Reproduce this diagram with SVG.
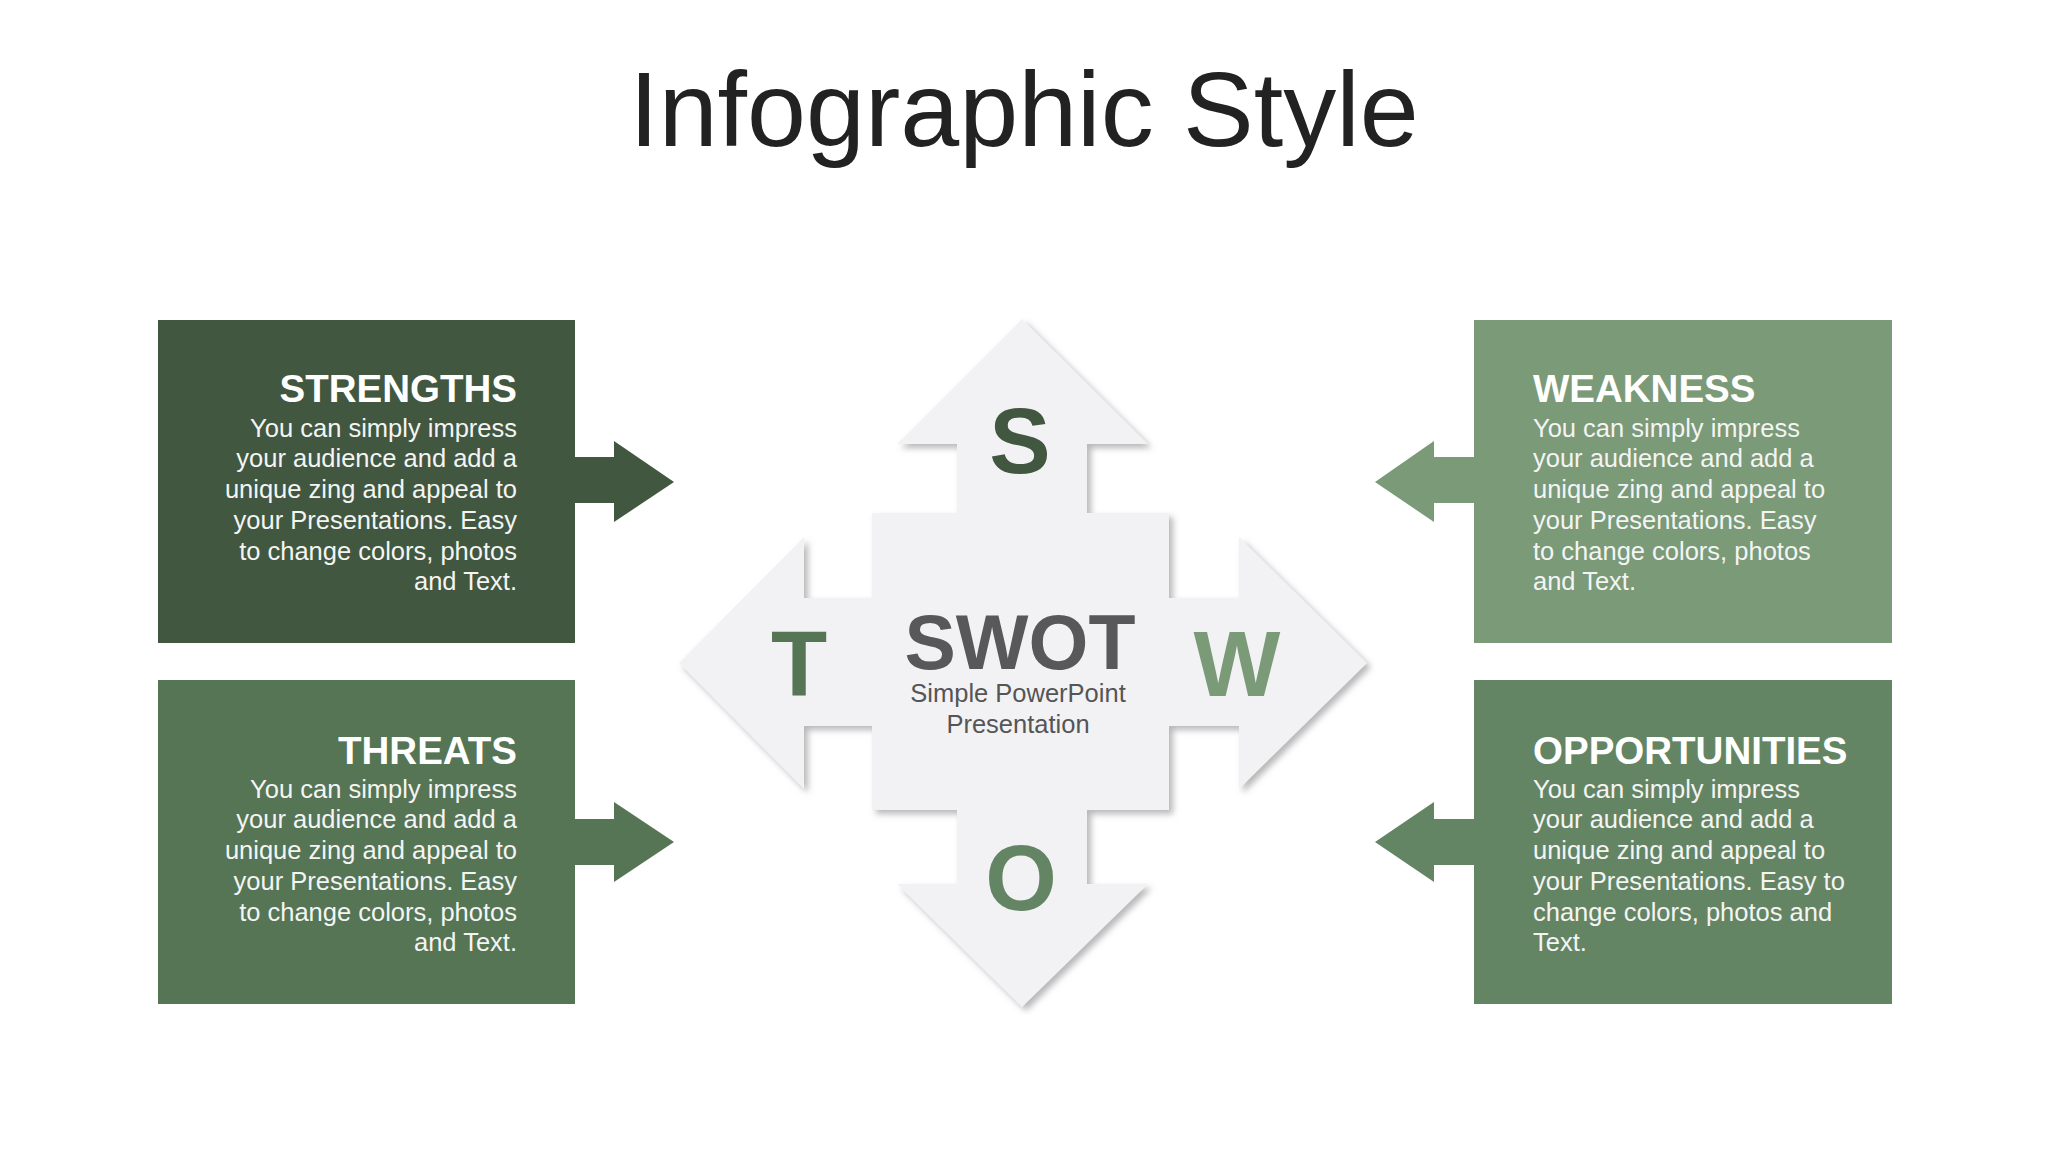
<svg xmlns="http://www.w3.org/2000/svg" width="2048" height="1152" viewBox="0 0 2048 1152">
<style>
text{font-family:"Liberation Sans",Arial,sans-serif}
.h{font-size:38.5px;font-weight:bold;fill:#fff}
.b{font-size:25.5px;fill:#f4f4f4}
.r{text-anchor:end}
.big{font-size:92px;font-weight:bold;text-anchor:middle}
</style>
<defs>
<filter id="sh" x="-10%" y="-10%" width="120%" height="120%">
<feDropShadow dx="4" dy="4" stdDeviation="3" flood-color="#888" flood-opacity="0.6"/>
</filter>
</defs>
<rect width="2048" height="1152" fill="#fff"/>
<text x="1024" y="146" font-size="106" fill="#222" text-anchor="middle">Infographic Style</text>
<g id="connectors">
<polygon points="575,457 614,457 614,441 674,482 614,522 614,503 575,503" fill="#41573f"/>
<polygon points="575,819 614,819 614,802 674,842 614,882 614,865 575,865" fill="#557555"/>
<polygon points="1474,457 1434,457 1434,441 1375,482 1434,522 1434,503 1474,503" fill="#7a9a78"/>
<polygon points="1474,819 1434,819 1434,802 1375,842 1434,882 1434,865 1474,865" fill="#648564"/>
</g>
<g id="strengths">
<rect x="158" y="320" width="417" height="323" fill="#41573f"/>
<text class="h r" x="517" y="402">STRENGTHS</text>
<text class="b r" x="517" y="437">You can simply impress</text>
<text class="b r" x="517" y="467">your audience and add a</text>
<text class="b r" x="517" y="498">unique zing and appeal to</text>
<text class="b r" x="517" y="529">your Presentations. Easy</text>
<text class="b r" x="517" y="560">to change colors, photos</text>
<text class="b r" x="517" y="590">and Text.</text>
</g>
<g id="threats">
<rect x="158" y="680" width="417" height="324" fill="#557555"/>
<text class="h r" x="517" y="764">THREATS</text>
<text class="b r" x="517" y="798">You can simply impress</text>
<text class="b r" x="517" y="828">your audience and add a</text>
<text class="b r" x="517" y="859">unique zing and appeal to</text>
<text class="b r" x="517" y="890">your Presentations. Easy</text>
<text class="b r" x="517" y="921">to change colors, photos</text>
<text class="b r" x="517" y="951">and Text.</text>
</g>
<g id="weakness">
<rect x="1474" y="320" width="418" height="323" fill="#7a9a78"/>
<text class="h" x="1533" y="402">WEAKNESS</text>
<text class="b" x="1533" y="437">You can simply impress</text>
<text class="b" x="1533" y="467">your audience and add a</text>
<text class="b" x="1533" y="498">unique zing and appeal to</text>
<text class="b" x="1533" y="529">your Presentations. Easy</text>
<text class="b" x="1533" y="560">to change colors, photos</text>
<text class="b" x="1533" y="590">and Text.</text>
</g>
<g id="opportunities">
<rect x="1474" y="680" width="418" height="324" fill="#648564"/>
<text class="h" x="1533" y="764">OPPORTUNITIES</text>
<text class="b" x="1533" y="798">You can simply impress</text>
<text class="b" x="1533" y="828">your audience and add a</text>
<text class="b" x="1533" y="859">unique zing and appeal to</text>
<text class="b" x="1533" y="890">your Presentations. Easy to</text>
<text class="b" x="1533" y="921">change colors, photos and</text>
<text class="b" x="1533" y="951">Text.</text>
</g>
<g id="swot">
<polygon filter="url(#sh)" fill="#f2f2f4" points="1022,319 1148,444 1087,444 1087,513 1169,513 1169,598 1239,598 1239,537 1367,663 1239,789 1239,726 1169,726 1169,810 1087,810 1087,884 1148,884 1022,1007 897,884 957,884 957,810 872,810 872,726 804,726 804,789 679,663 804,537 804,598 872,598 872,513 957,513 957,444 897,444"/>
<text class="big" x="1020" y="473" fill="#41573f">S</text>
<text class="big" x="799" y="696" fill="#557555">T</text>
<text class="big" x="1237" y="696" fill="#7a9a78">W</text>
<text class="big" x="1021" y="910" fill="#648564">O</text>
<text x="1020" y="669" font-size="77" font-weight="bold" fill="#58585a" text-anchor="middle">SWOT</text>
<text x="1018" y="702" font-size="25.5" fill="#555" text-anchor="middle">Simple PowerPoint</text>
<text x="1018" y="733" font-size="25.5" fill="#555" text-anchor="middle">Presentation</text>
</g>
</svg>
